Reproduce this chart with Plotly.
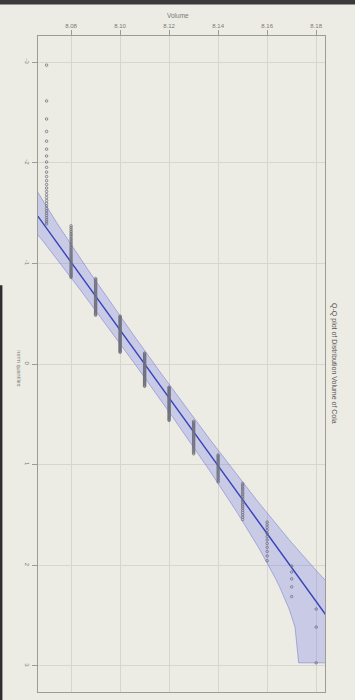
import numpy as np
import plotly.graph_objects as go
from statistics import NormalDist

volume_values = [8.07, 8.08, 8.09, 8.10, 8.11, 8.12, 8.13, 8.14, 8.15, 8.16, 8.17, 8.18]
volume_counts = [28, 38, 40, 47, 45, 42, 34, 22, 20, 12, 5, 3]
volume_ticks = [8.08, 8.10, 8.12, 8.14, 8.16, 8.18]
volume_tick_labels = ["8.08", "8.10", "8.12", "8.14", "8.16", "8.18"]
quantile_ticks = [-3, -2, -1, 0, 1, 2, 3]
quantile_tick_labels = ["-3", "-2", "-1", "0", "1", "2", "3"]
title_text = "Q-Q plot of Distribution Volume of Cola"
x_title = "norm quantiles"
y_title = "Volume"

# ---- Q-Q computation (car::qqPlot style: ppoints, robust line, pointwise 95% envelope) ----
nd = NormalDist()
data = np.sort(np.repeat(volume_values, volume_counts))
n = len(data)
p = (np.arange(1, n + 1) - 0.5) / n
z = np.array([nd.inv_cdf(v) for v in p])
q1, q3 = np.quantile(data, [0.25, 0.75])
z1, z3 = nd.inv_cdf(0.25), nd.inv_cdf(0.75)
b = (q3 - q1) / (z3 - z1)
a = q1 - b * z1
fit = a + b * z
dens = np.array([nd.pdf(v) for v in z])
se = b / dens * np.sqrt(p * (1 - p) / n)
crit = nd.inv_cdf(0.975)
upper = fit + crit * se
lower = fit - crit * se

FONT = "Liberation Sans, Arial, sans-serif"
BG = "#ecebe4"
GRID = "#d6d5ce"
FRAME = "#9c9b96"
TXT = "#7a7a78"

fig = go.Figure()
fig.add_trace(go.Scatter(
    x=np.concatenate([upper, lower[::-1]]),
    y=np.concatenate([z, z[::-1]]),
    fill="toself", fillcolor="rgba(120,125,235,0.30)",
    line=dict(color="rgba(95,100,200,0.55)", width=0.8),
    mode="lines", hoverinfo="skip", showlegend=False))
fig.add_trace(go.Scatter(
    x=fit, y=z, mode="lines",
    line=dict(color="#3444b8", width=1.4), showlegend=False))
fig.add_trace(go.Scatter(
    x=data, y=z, mode="markers",
    marker=dict(symbol="circle-open", size=2.5, color="#6e6e7c",
                line=dict(width=0.8, color="#6e6e7c")),
    showlegend=False))

fig.update_layout(
    width=355, height=700,
    margin=dict(l=38, r=30, t=36, b=8),
    paper_bgcolor=BG, plot_bgcolor=BG,
    font=dict(family=FONT, color=TXT, size=6),
    xaxis=dict(
        side="top", range=[8.0665, 8.1836],
        tickvals=volume_ticks, ticktext=volume_tick_labels,
        showgrid=True, gridcolor=GRID, gridwidth=1, zeroline=False,
        showline=True, mirror=True, linecolor=FRAME, linewidth=1,
        ticks="outside", ticklen=5, tickcolor=FRAME,
        tickfont=dict(size=6, color=TXT, family=FONT)),
    yaxis=dict(
        range=[3.26, -3.26],
        tickvals=quantile_ticks, ticktext=quantile_tick_labels, tickangle=90,
        showgrid=True, gridcolor=GRID, gridwidth=1, zeroline=False,
        showline=True, mirror=True, linecolor=FRAME, linewidth=1,
        ticks="outside", ticklen=5, tickcolor=FRAME,
        tickfont=dict(size=6, color=TXT, family=FONT)),
    shapes=[
        dict(type="rect", xref="paper", yref="paper", x0=-0.2, x1=1.2, y0=1.048, y1=1.07,
             fillcolor="#3a3a3c", line=dict(width=0), layer="above"),
        dict(type="rect", xref="paper", yref="paper", x0=-0.2, x1=-0.124, y0=-0.02, y1=0.62,
             fillcolor="#2e2e32", line=dict(width=0), layer="above"),
    ],
    annotations=[
        dict(text=y_title, xref="paper", yref="paper", x=0.488, y=1.040,
             showarrow=False, font=dict(size=6.5, color=TXT, family=FONT)),
        dict(text=x_title, xref="paper", yref="paper", x=-0.085, y=0.494, textangle=90,
             showarrow=False, font=dict(size=5.5, color=TXT, family=FONT)),
        dict(text=title_text, xref="paper", yref="paper", x=1.052, y=0.500, textangle=90,
             showarrow=False, font=dict(size=7, color="#555553", family=FONT)),
    ],
)

fig.write_html("out.html")
